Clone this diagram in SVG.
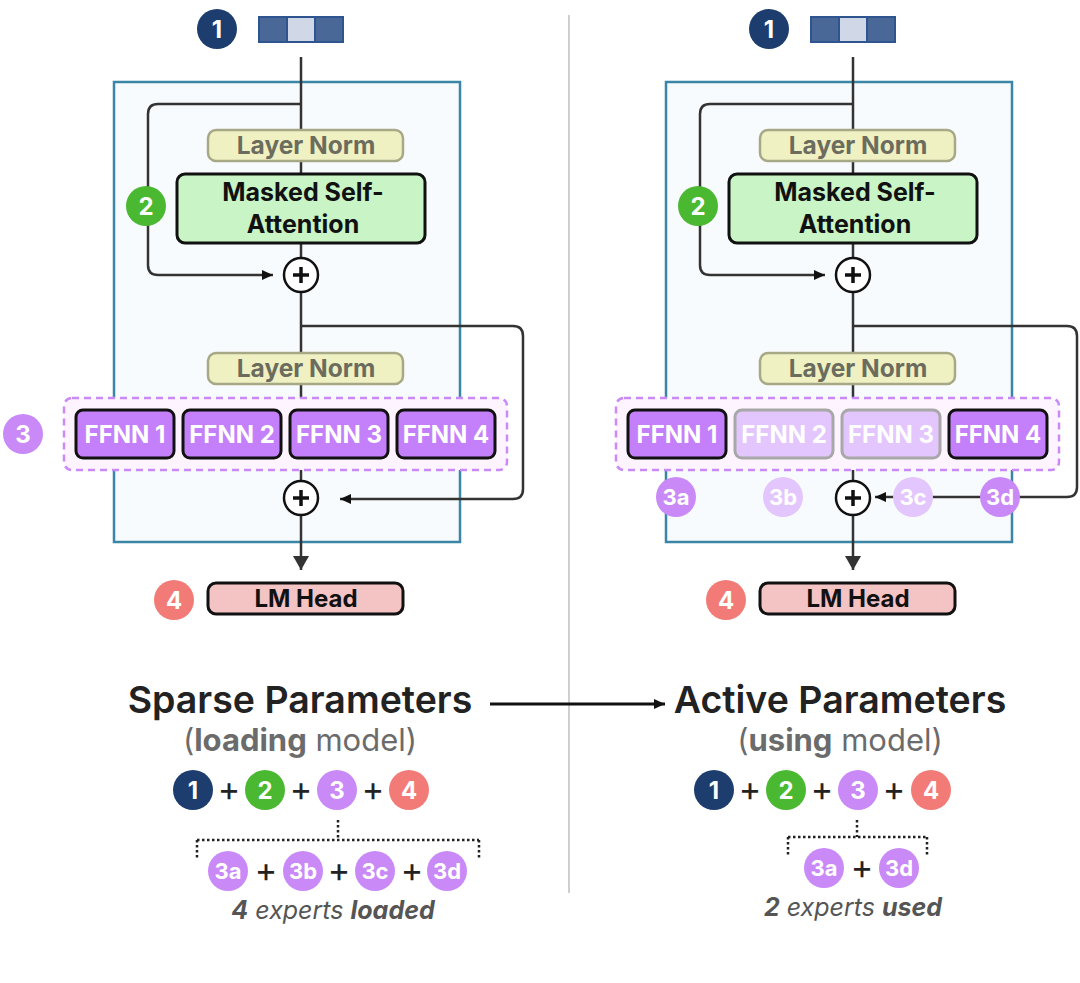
<svg xmlns="http://www.w3.org/2000/svg" width="1080" height="983" viewBox="0 0 1080 983">
<defs>
<style>
text{font-family:Inter,"Noto Sans","Liberation Sans",sans-serif}
.bx{fill:#f8fbfd;stroke:#3b86a6;stroke-width:2.5}
.ln{fill:#eff1c2;stroke:#a7a886;stroke-width:2.5}
.lnt{fill:#6c6c5e;font-size:24.5px;font-weight:700;text-anchor:middle}
.msa{fill:#c9f4c5;stroke:#111;stroke-width:3}
.bt{fill:#111;font-size:25px;font-weight:700;text-anchor:middle}
.lmt{fill:#111;font-size:24px;font-weight:700;text-anchor:middle}
.grp{fill:#fdf4ff;stroke:#c98af8;stroke-width:2.5;stroke-dasharray:7 5}
.ff{fill:#c47ffa;stroke:#111;stroke-width:3}
.fff{fill:#e3c6fd;stroke:#a8a8a8;stroke-width:3}
.fft{fill:#fff;font-size:24px;font-weight:700;text-anchor:middle}
.lm{fill:#f4c3c3;stroke:#111;stroke-width:3}
.c{fill:none;stroke:#333;stroke-width:2.5}
.pl{fill:#fff;stroke:#111;stroke-width:2.5}
.plx{stroke:#111;stroke-width:3.5;fill:none}
.bn{fill:#fff;font-size:24px;font-weight:700;text-anchor:middle}
.bs{fill:#fff;font-size:22px;font-weight:700;text-anchor:middle}
.navy{fill:#1c3d6e}
.green{fill:#4bb831}
.purp{fill:#c98af8}
.lpurp{fill:#e3c6fd}
.red{fill:#f27b78}
.op{fill:#222;font-size:34px;font-weight:400;text-anchor:middle}
.dot{fill:none;stroke:#222;stroke-width:2.5;stroke-dasharray:2.5 2.5}
</style>
<marker id="arr" markerUnits="userSpaceOnUse" markerWidth="12" markerHeight="12" refX="11" refY="6" orient="auto">
<path d="M0,1 L11,6 L0,11 z" fill="#111"/>
</marker>
<marker id="arrB" markerUnits="userSpaceOnUse" markerWidth="16" markerHeight="16" refX="14" refY="8" orient="auto">
<path d="M0,0 L14,8 L0,16 z" fill="#333"/>
</marker>
</defs>
<rect width="1080" height="983" fill="#fff"/>

<!-- divider -->
<line x1="569" y1="15" x2="569" y2="893" stroke="#cfcfcf" stroke-width="2"/>

<!-- blue boxes -->
<rect id="block-left" class="bx" x="114" y="82" width="346" height="460"/>
<rect id="block-right" class="bx" x="666" y="82" width="346" height="460"/>

<g id="connectors">
<path class="c" d="M301,57 V570" marker-end="url(#arrB)"/>
<path class="c" d="M301,104 H158 Q148,104 148,114 V265 Q148,275 158,275 H273" marker-end="url(#arr)"/>
<path class="c" d="M301,326 H513 Q523,326 523,336 V489 Q523,499 513,499 H340" marker-end="url(#arr)"/>
<path class="c" d="M853,57 V570" marker-end="url(#arrB)"/>
<path class="c" d="M853,104 H710 Q700,104 700,114 V265 Q700,275 710,275 H825" marker-end="url(#arr)"/>
<path class="c" d="M853,326 H1067 Q1077,326 1077,336 V487 Q1077,497 1067,497 H875" marker-end="url(#arr)"/>
<path d="M490,704 H665" stroke="#111" stroke-width="3" fill="none" marker-end="url(#arr)"/>
</g>

<!-- LEFT PANEL -->
<g id="badge1-left"><circle class="navy" cx="217" cy="29" r="20"/><text class="bn" x="217" y="38">1</text></g>
<g id="token-left">
<rect x="258" y="16" width="86" height="27" fill="#2e5590"/>
<rect x="260" y="18" width="26" height="23" fill="#4a6897"/>
<rect x="288" y="18" width="26" height="23" fill="#d0d8e7"/>
<rect x="316" y="18" width="26" height="23" fill="#4a6897"/>
</g>
<g id="ln1-left"><rect class="ln" x="208" y="130" width="195" height="31" rx="8"/><text class="lnt" x="306" y="154">Layer Norm</text></g>
<g id="msa-left"><rect class="msa" x="177" y="174" width="248" height="69" rx="8"/><text class="bt" x="303" y="201">Masked Self-</text><text class="bt" x="303" y="233">Attention</text></g>
<g id="badge2-left"><circle class="green" cx="146" cy="206" r="20"/><text class="bn" x="146" y="215">2</text></g>
<g id="plus1-left"><circle class="pl" cx="301" cy="275" r="17"/><path class="plx" d="M293,275 H309 M301,267 V283"/></g>
<g id="ln2-left"><rect class="ln" x="208" y="353" width="195" height="31" rx="8"/><text class="lnt" x="306" y="377">Layer Norm</text></g>
<g id="experts-left">
<rect class="grp" x="64" y="398" width="443" height="72" rx="8"/>
<rect class="ff" x="76" y="410" width="98" height="48" rx="7"/><text class="fft" x="125" y="443">FFNN 1</text>
<rect class="ff" x="183" y="410" width="98" height="48" rx="7"/><text class="fft" x="232" y="443">FFNN 2</text>
<rect class="ff" x="290" y="410" width="98" height="48" rx="7"/><text class="fft" x="339" y="443">FFNN 3</text>
<rect class="ff" x="397" y="410" width="98" height="48" rx="7"/><text class="fft" x="446" y="443">FFNN 4</text>
</g>
<g id="badge3-left"><circle class="purp" cx="23" cy="434" r="20"/><text class="bn" x="23" y="443">3</text></g>
<g id="plus2-left"><circle class="pl" cx="301" cy="498" r="17"/><path class="plx" d="M293,498 H309 M301,490 V506"/></g>
<g id="lmhead-left"><rect class="lm" x="208" y="583" width="195" height="31" rx="8"/><text class="lmt" x="306" y="607">LM Head</text></g>
<g id="badge4-left"><circle class="red" cx="174" cy="600" r="20"/><text class="bn" x="174" y="609">4</text></g>

<!-- RIGHT PANEL -->
<g id="badge1-right"><circle class="navy" cx="769" cy="29" r="20"/><text class="bn" x="769" y="38">1</text></g>
<g id="token-right">
<rect x="810" y="16" width="86" height="27" fill="#2e5590"/>
<rect x="812" y="18" width="26" height="23" fill="#4a6897"/>
<rect x="840" y="18" width="26" height="23" fill="#d0d8e7"/>
<rect x="868" y="18" width="26" height="23" fill="#4a6897"/>
</g>
<g id="ln1-right"><rect class="ln" x="760" y="130" width="195" height="31" rx="8"/><text class="lnt" x="858" y="154">Layer Norm</text></g>
<g id="msa-right"><rect class="msa" x="729" y="174" width="248" height="69" rx="8"/><text class="bt" x="855" y="201">Masked Self-</text><text class="bt" x="855" y="233">Attention</text></g>
<g id="badge2-right"><circle class="green" cx="698" cy="206" r="20"/><text class="bn" x="698" y="215">2</text></g>
<g id="plus1-right"><circle class="pl" cx="853" cy="275" r="17"/><path class="plx" d="M845,275 H861 M853,267 V283"/></g>
<g id="ln2-right"><rect class="ln" x="760" y="353" width="195" height="31" rx="8"/><text class="lnt" x="858" y="377">Layer Norm</text></g>
<g id="experts-right">
<rect class="grp" x="616" y="398" width="443" height="72" rx="8"/>
<rect class="ff" x="628" y="410" width="98" height="48" rx="7"/><text class="fft" x="677" y="443">FFNN 1</text>
<rect class="fff" x="735" y="410" width="98" height="48" rx="7"/><text class="fft" x="784" y="443">FFNN 2</text>
<rect class="fff" x="842" y="410" width="98" height="48" rx="7"/><text class="fft" x="891" y="443">FFNN 3</text>
<rect class="ff" x="949" y="410" width="98" height="48" rx="7"/><text class="fft" x="998" y="443">FFNN 4</text>
</g>
<g id="badge3a-right"><circle class="purp" cx="676" cy="497" r="20"/><text class="bs" x="676" y="505">3a</text></g>
<g id="badge3b-right"><circle class="lpurp" cx="783" cy="497" r="20"/><text class="bs" x="783" y="505">3b</text></g>
<g id="badge3c-right"><circle class="lpurp" cx="913" cy="497" r="20"/><text class="bs" x="913" y="505">3c</text></g>
<g id="badge3d-right"><circle class="purp" cx="1000" cy="497" r="20"/><text class="bs" x="1000" y="505">3d</text></g>
<g id="plus2-right"><circle class="pl" cx="853" cy="498" r="17"/><path class="plx" d="M845,498 H861 M853,490 V506"/></g>
<g id="lmhead-right"><rect class="lm" x="760" y="583" width="195" height="31" rx="8"/><text class="lmt" x="858" y="607">LM Head</text></g>
<g id="badge4-right"><circle class="red" cx="726" cy="600" r="20"/><text class="bn" x="726" y="609">4</text></g>

<!-- BOTTOM LEFT -->
<g id="sparse-title">
<text x="300" y="713" font-size="37.5" font-weight="600" fill="#222" text-anchor="middle">Sparse Parameters</text>
<text x="300" y="751" font-size="31" fill="#6b6b6b" text-anchor="middle">(<tspan font-weight="700">loading</tspan> model)</text>
</g>
<g id="sparse-formula">
<circle class="navy" cx="193" cy="790" r="20"/><text class="bn" x="193" y="799">1</text>
<text class="op" x="229" y="801">+</text>
<circle class="green" cx="265" cy="790" r="20"/><text class="bn" x="265" y="799">2</text>
<text class="op" x="301" y="801">+</text>
<circle class="purp" cx="337" cy="790" r="20"/><text class="bn" x="337" y="799">3</text>
<text class="op" x="373" y="801">+</text>
<circle class="red" cx="409" cy="790" r="20"/><text class="bn" x="409" y="799">4</text>
<path class="dot" d="M338,820 V840 M197,840 H479 M197,840 V860 M479,840 V860"/>
<circle class="purp" cx="228" cy="871" r="20"/><text class="bs" x="228" y="879">3a</text>
<text class="op" x="266" y="882">+</text>
<circle class="purp" cx="303" cy="871" r="20"/><text class="bs" x="303" y="879">3b</text>
<text class="op" x="339" y="882">+</text>
<circle class="purp" cx="375" cy="871" r="20"/><text class="bs" x="375" y="879">3c</text>
<text class="op" x="412" y="882">+</text>
<circle class="purp" cx="447" cy="871" r="20"/><text class="bs" x="447" y="879">3d</text>
<text x="333" y="919" font-size="25" font-style="italic" fill="#555" text-anchor="middle"><tspan font-weight="700">4</tspan> experts <tspan font-weight="700">loaded</tspan></text>
</g>

<!-- BOTTOM RIGHT -->
<g id="active-title">
<text x="840" y="713" font-size="37.5" font-weight="600" fill="#222" text-anchor="middle">Active Parameters</text>
<text x="840" y="751" font-size="31" fill="#6b6b6b" text-anchor="middle">(<tspan font-weight="700">using</tspan> model)</text>
</g>
<g id="active-formula">
<circle class="navy" cx="714" cy="790" r="20"/><text class="bn" x="714" y="799">1</text>
<text class="op" x="750" y="801">+</text>
<circle class="green" cx="786" cy="790" r="20"/><text class="bn" x="786" y="799">2</text>
<text class="op" x="822" y="801">+</text>
<circle class="purp" cx="858" cy="790" r="20"/><text class="bn" x="858" y="799">3</text>
<text class="op" x="894" y="801">+</text>
<circle class="red" cx="931" cy="790" r="20"/><text class="bn" x="931" y="799">4</text>
<path class="dot" d="M857,820 V837 M788,837 H927 M788,837 V857 M927,837 V857"/>
<circle class="purp" cx="824" cy="868" r="20"/><text class="bs" x="824" y="876">3a</text>
<text class="op" x="862" y="879">+</text>
<circle class="purp" cx="899" cy="868" r="20"/><text class="bs" x="899" y="876">3d</text>
<text x="853" y="916" font-size="25" font-style="italic" fill="#555" text-anchor="middle"><tspan font-weight="700">2</tspan> experts <tspan font-weight="700">used</tspan></text>
</g>
</svg>
